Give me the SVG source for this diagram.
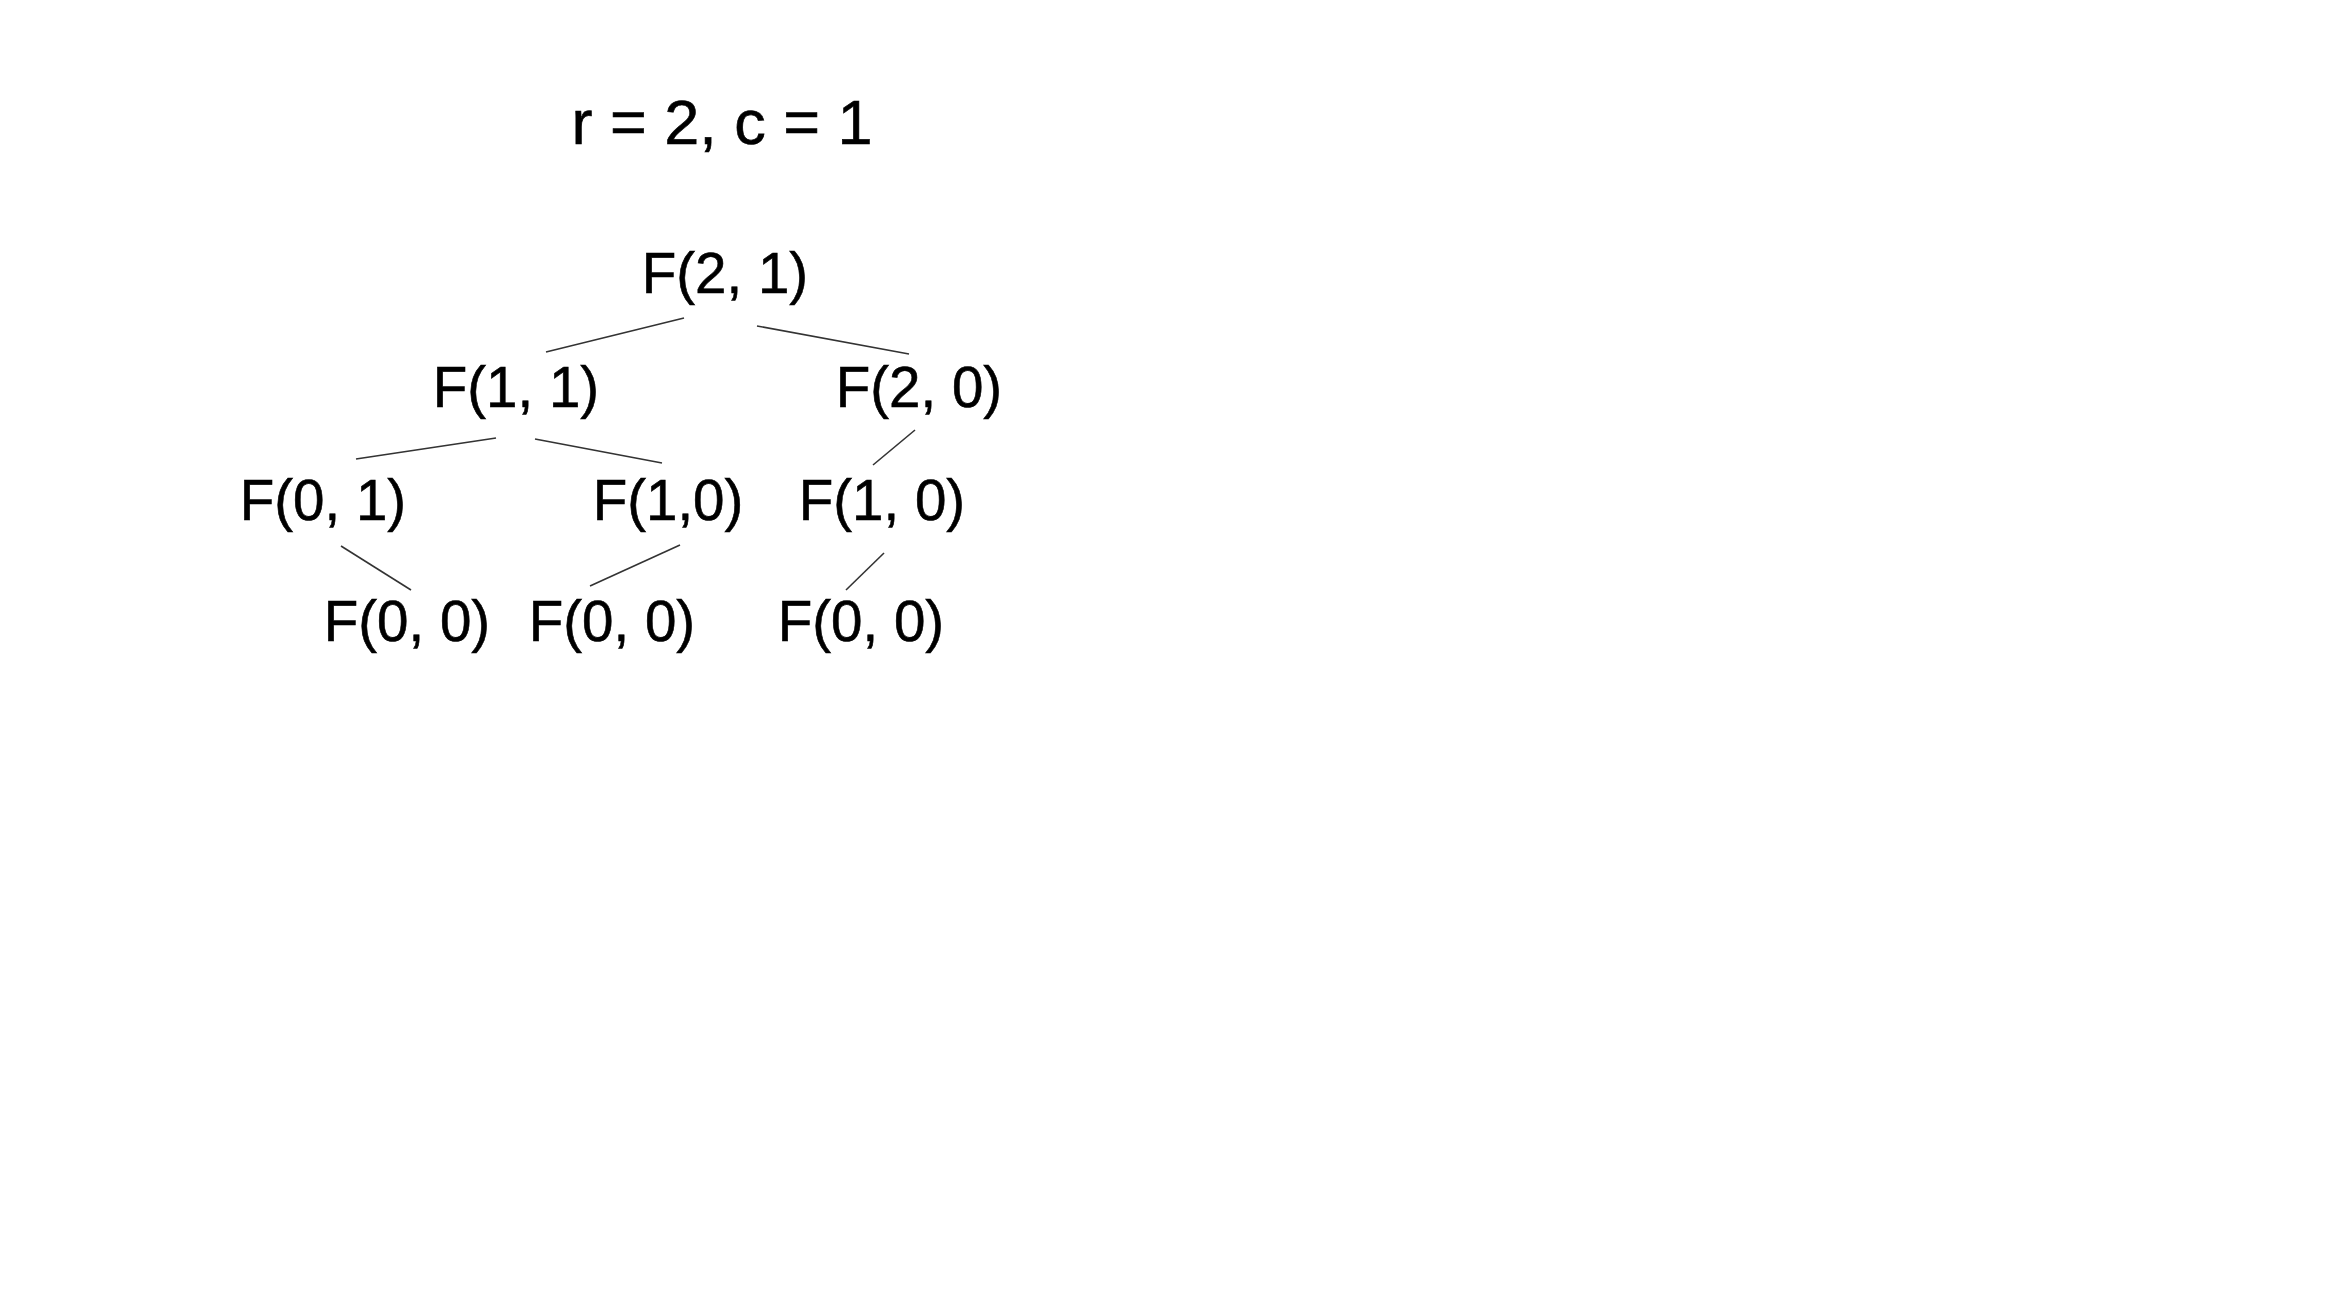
<svg xmlns="http://www.w3.org/2000/svg" width="2335" height="1302" viewBox="0 0 2335 1302">
<style>
.t{font-family:"Liberation Sans",Arial,sans-serif;font-size:56.5px;fill:#000;stroke:#000;stroke-width:0.6;text-anchor:middle}
.h{font-size:63px}
.e{stroke:#333;stroke-width:1.6;fill:none}
</style>
<rect width="2335" height="1302" fill="#fff"/>
<g id="title"><text class="t h" x="722" y="144">r = 2, c = 1</text></g>
<g id="connectors">
<line class="e" x1="684" y1="318" x2="546" y2="352"/>
<line class="e" x1="757" y1="326" x2="909" y2="354"/>
<line class="e" x1="496" y1="438" x2="356" y2="459"/>
<line class="e" x1="535" y1="439" x2="662" y2="463"/>
<line class="e" x1="915" y1="430" x2="873" y2="465"/>
<line class="e" x1="341" y1="546" x2="411" y2="590"/>
<line class="e" x1="680" y1="545" x2="590" y2="586"/>
<line class="e" x1="884" y1="553" x2="846" y2="590"/>
</g>
<g id="n21"><text class="t" x="725" y="293">F(2, 1)</text></g>
<g id="n11"><text class="t" x="516" y="407">F(1, 1)</text></g>
<g id="n20"><text class="t" x="919" y="407">F(2, 0)</text></g>
<g id="n01"><text class="t" x="323" y="520">F(0, 1)</text></g>
<g id="n10a"><text class="t" x="668" y="520">F(1,0)</text></g>
<g id="n10b"><text class="t" x="882" y="520">F(1, 0)</text></g>
<g id="n00a"><text class="t" x="407" y="641">F(0, 0)</text></g>
<g id="n00b"><text class="t" x="612" y="641">F(0, 0)</text></g>
<g id="n00c"><text class="t" x="861" y="641">F(0, 0)</text></g>
</svg>
